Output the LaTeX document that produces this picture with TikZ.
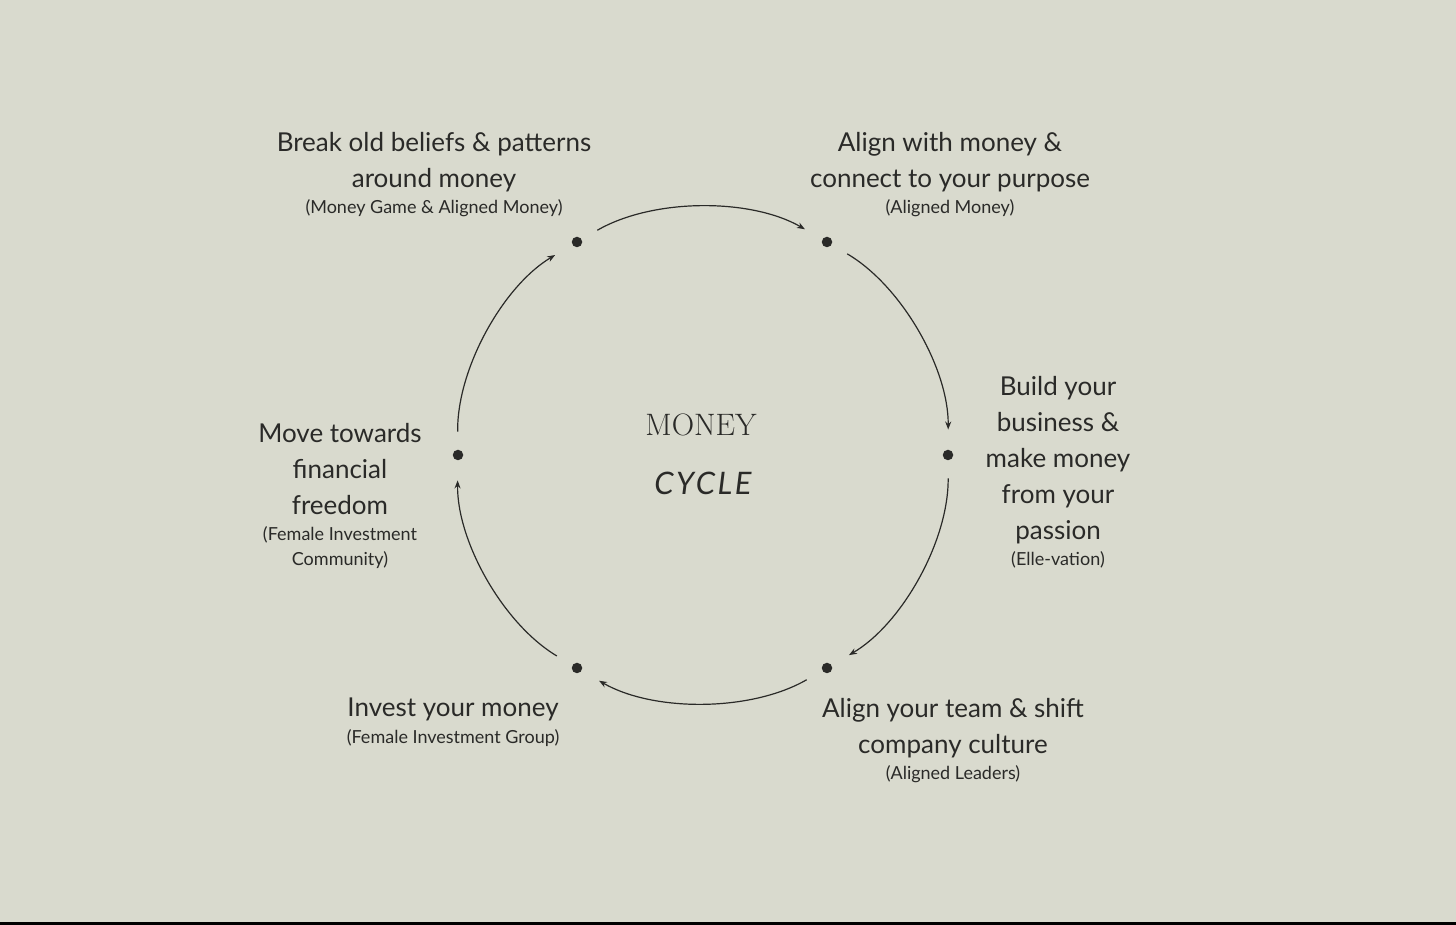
\documentclass[tikz,border=0pt]{standalone}
\usepackage{fontspec}
\newfontfamily\labelfont{Lato}
\newfontfamily\cyclefont[LetterSpace=8]{Lato Italic}
\usetikzlibrary{positioning,arrows.meta}
\definecolor{paper}{HTML}{D9DACE}
\definecolor{ink}{HTML}{2A2A28}

\begin{document}
\begin{tikzpicture}[
      x=1pt,y=1pt,
      every node/.style={text=ink, inner sep=0pt, align=center},
      stage/.style={font=\labelfont\fontsize{26}{36}\selectfont, anchor=north, text depth=5pt},
      stagenote/.style={font=\labelfont\fontsize{18}{25}\selectfont},
      stagedot/.style={circle, fill=ink, minimum size=10.5pt},
      flow/.style={draw=ink, line width=1.2pt, -{Stealth[length=8pt,width=6pt]},
        bend left=30, looseness=0.88, shorten <=18pt, shorten >=20pt}
      ]

      % paper and the dark strip along the lower edge
      \fill[paper] (0,0) rectangle (1456,925);
      \fill[black] (0,0) rectangle (1456,3);
      \useasboundingbox (0,0) rectangle (1456,925);

      \coordinate (centre) at (703,470);

      % the six stages sit round the centre
      \foreach \dx/\dy/\name in {-126/213/break, 124/213/align, 245/0/build, 124/-213/team, -126/-213/invest, -245/0/move}
        \node[stagedot] (\name) at ([shift={(\dx,\dy)}]centre) {};

      % clockwise arrows from stage to stage
      \foreach \from/\to in {break/align, align/build, build/team, team/invest, invest/move, move/break}
        \path (\from) edge[flow] (\to);

      % title in the middle
      \node[font=\fontsize{31}{31}\selectfont] (title) at (701,500) {MONEY};
      \node[font=\cyclefont\fontsize{31}{31}\selectfont] (cycle) at (703,442) {CYCLE};

      % the texts of the stages, each with its programme below it
      \node[stage] (breaktext) at (434,793) {Break old beliefs \& patterns\\around money};
      \node[stagenote, below=7pt of breaktext] {(Money Game \& Aligned Money)};

      \node[stage] (aligntext) at (950,793) {Align with money \&\\connect to your purpose};
      \node[stagenote, below=7pt of aligntext] {(Aligned Money)};

      \node[stage] (buildtext) at (1058,549) {Build your\\business \&\\make money\\from your\\passion};
      \node[stagenote, below=7pt of buildtext] {(Elle-vation)};

      \node[stage] (teamtext) at (953,227) {Align your team \& shift\\company culture};
      \node[stagenote, below=7pt of teamtext] {(Aligned Leaders)};

      \node[stage] (investtext) at (453,227) {Invest your money};
      \node[stagenote, below=7pt of investtext] {(Female Investment Group)};

      \node[stage] (movetext) at (340,502) {Move towards\\financial\\freedom};
      \node[stagenote, below=7pt of movetext] {(Female Investment\\Community)};
    \end{tikzpicture}
\end{document}
